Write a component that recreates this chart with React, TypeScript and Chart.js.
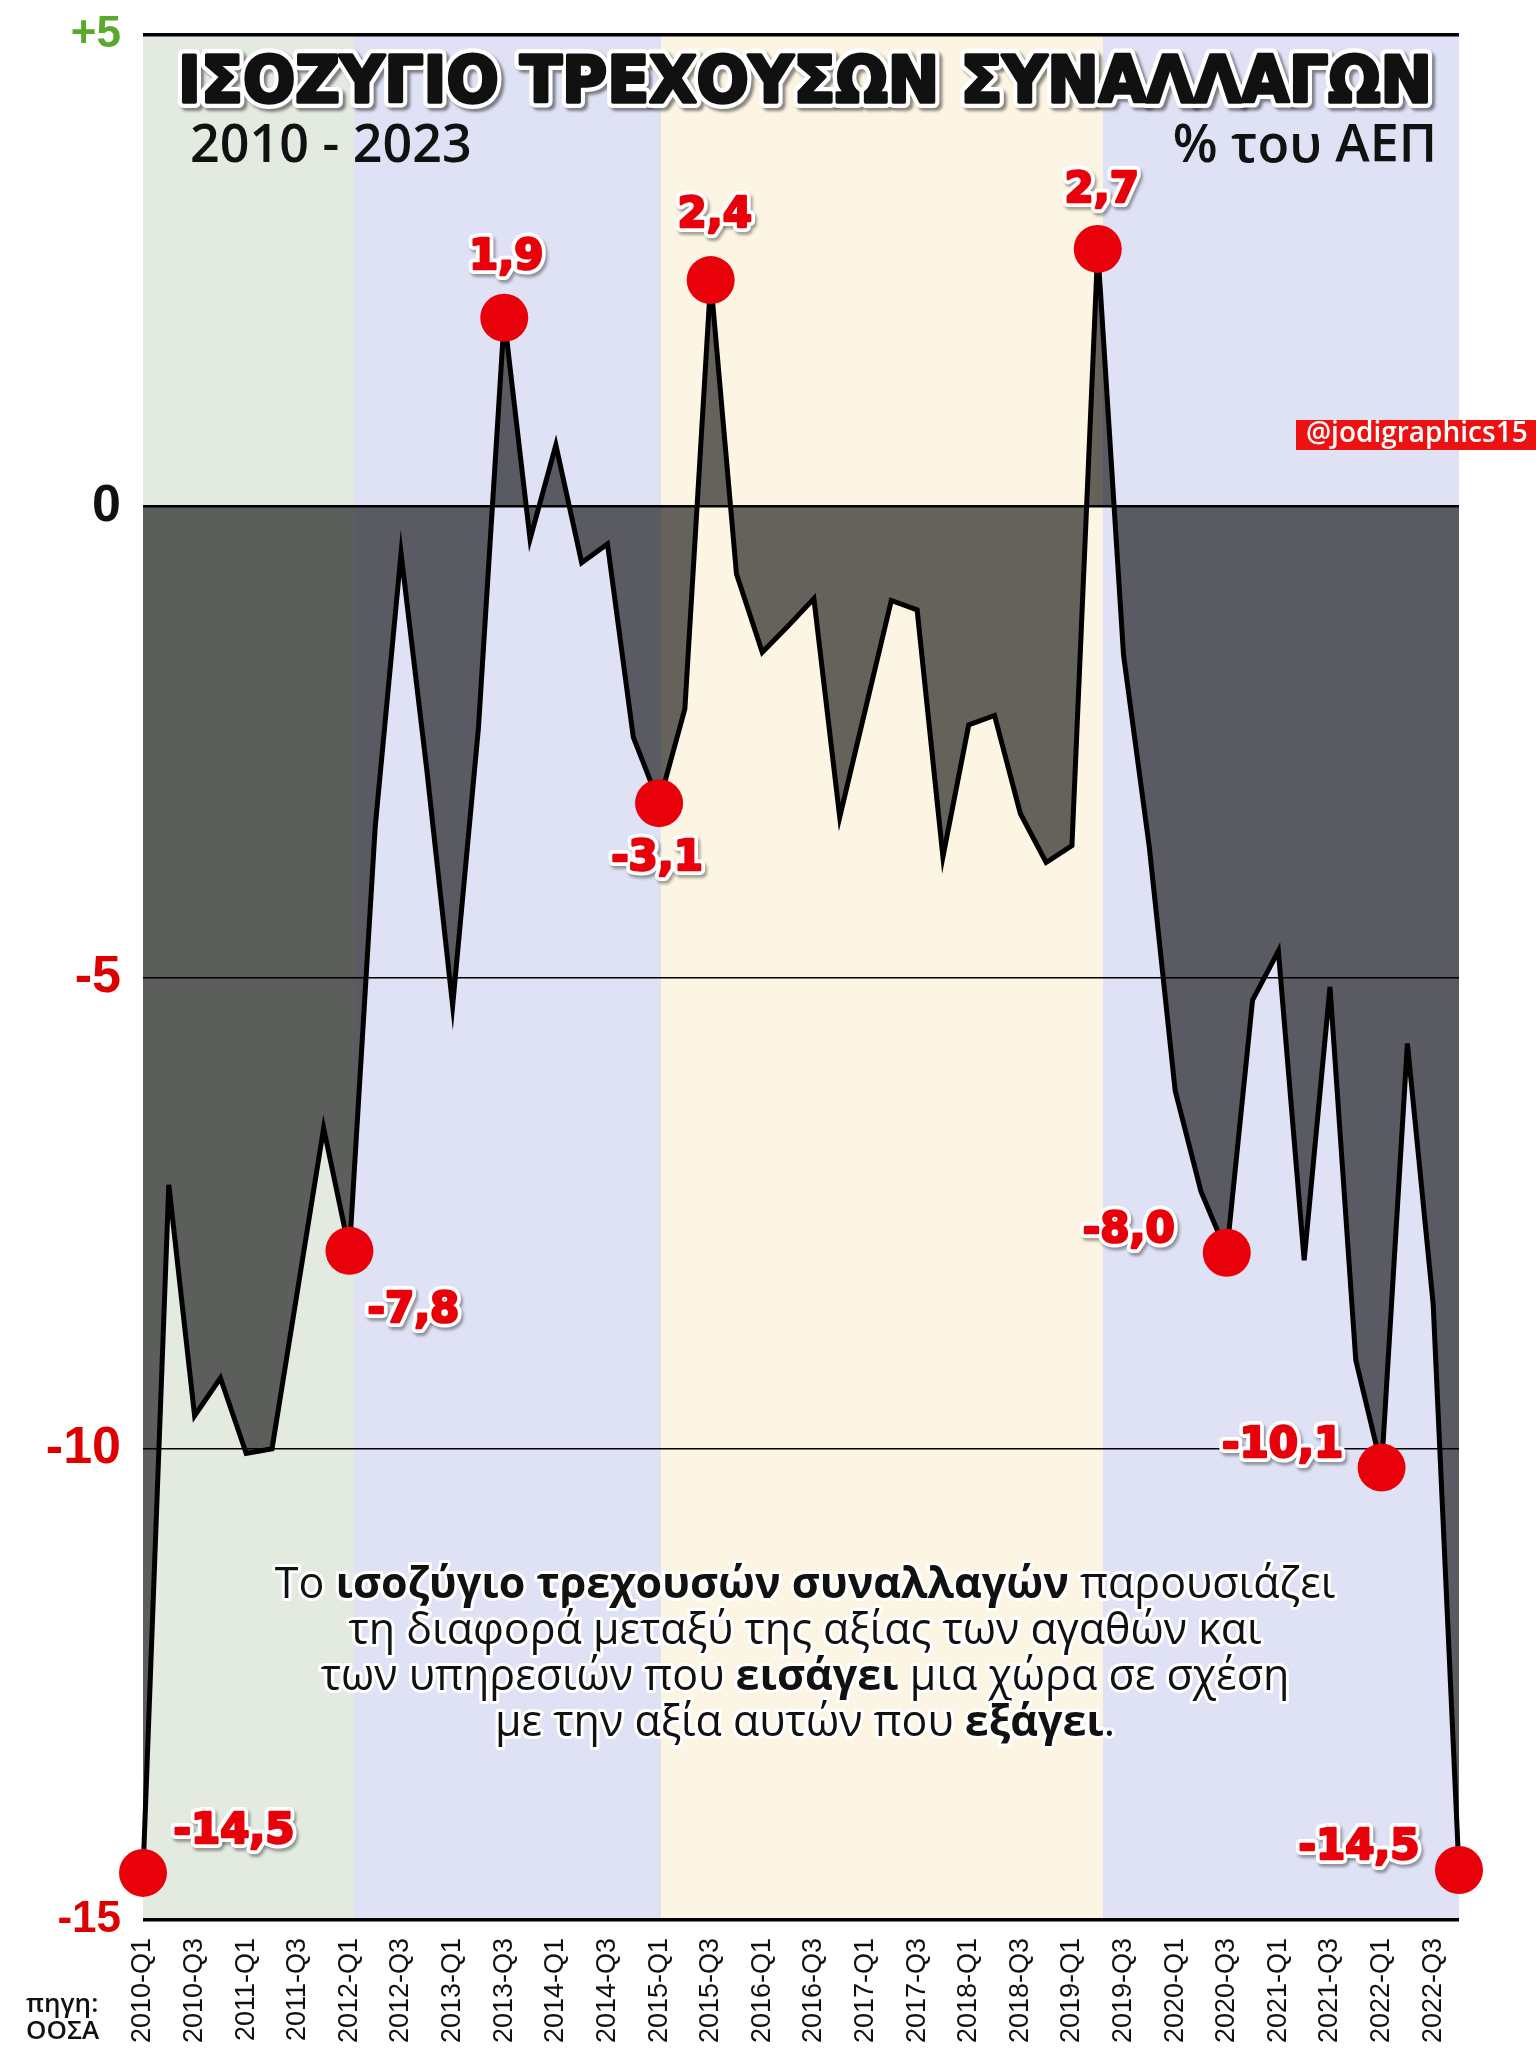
import React, { useEffect, useRef } from 'react';
import { Chart, registerables } from 'chart.js';

Chart.register(...registerables);

// ---------- data ----------
const quarters = [
  '2010-Q1', '2010-Q2', '2010-Q3', '2010-Q4',
  '2011-Q1', '2011-Q2', '2011-Q3', '2011-Q4',
  '2012-Q1', '2012-Q2', '2012-Q3', '2012-Q4',
  '2013-Q1', '2013-Q2', '2013-Q3', '2013-Q4',
  '2014-Q1', '2014-Q2', '2014-Q3', '2014-Q4',
  '2015-Q1', '2015-Q2', '2015-Q3', '2015-Q4',
  '2016-Q1', '2016-Q2', '2016-Q3', '2016-Q4',
  '2017-Q1', '2017-Q2', '2017-Q3', '2017-Q4',
  '2018-Q1', '2018-Q2', '2018-Q3', '2018-Q4',
  '2019-Q1', '2019-Q2', '2019-Q3', '2019-Q4',
  '2020-Q1', '2020-Q2', '2020-Q3', '2020-Q4',
  '2021-Q1', '2021-Q2', '2021-Q3', '2021-Q4',
  '2022-Q1', '2022-Q2', '2022-Q3', '2022-Q4',
];

const balance = [
  -14.5, -7.2, -9.65, -9.25, -10.05, -10.0, -8.3, -6.6,
  -7.9, -3.4, -0.5, -2.8, -5.3, -2.35, 2.0, -0.35,
  0.65, -0.6, -0.4, -2.45, -3.15, -2.15, 2.4, -0.72,
  -1.55, -1.27, -0.98, -3.3, -2.15, -1.0, -1.1, -3.72,
  -2.32, -2.22, -3.26, -3.78, -3.6, 2.73, -1.58, -3.62,
  -6.2, -7.27, -7.92, -5.24, -4.72, -8.0, -5.1, -9.06,
  -10.2, -5.7, -8.47, -14.47,
];

const highlightIdx = [0, 8, 14, 20, 22, 37, 42, 48, 51];
const highlightText = ['-14,5', '-7,8', '1,9', '-3,1', '2,4', '2,7', '-8,0', '-10,1', '-14,5'];

const yTicks = [5, 0, -5, -10, -15];

// government periods (in quarter-index units) and colours
const periodBounds = [0, 8.18, 20.08, 37.2, 51];
const periodColors = ['#e3ebe0', '#dfe2f4', '#fdf5e3', '#dfe2f4'];

const titleText = 'ΙΣΟΖΥΓΙΟ ΤΡΕΧΟΥΣΩΝ ΣΥΝΑΛΛΑΓΩΝ';
const subLeft = '2010 - 2023';
const subRight = '% του ΑΕΠ';
const noteLines: [string, boolean][][] = [
  [['Το ', false], ['ισοζύγιο τρεχουσών συναλλαγών', true], [' παρουσιάζει', false]],
  [['τη διαφορά μεταξύ της αξίας των αγαθών και', false]],
  [['των υπηρεσιών που ', false], ['εισάγει', true], [' μια χώρα σε σχέση', false]],
  [['με την αξία αυτών που ', false], ['εξάγει', true], ['.', false]],
];
const sourceLines = ['πηγη:', 'ΟΟΣΑ'];
const watermark = '@jodigraphics15';

// ---------- styles (offsets of annotation labels from their markers) ----------
const labelOffsets = [
  [91, -41], [64, 60], [2, -60], [-2, 56], [4, -64], [4, -58], [-98, -22], [-99, -22], [-100, -22],
];

const RED = '#e8000a';

const decorPlugin = {
  id: 'decor',
  beforeDraw(chart: any) {
    const { ctx, chartArea } = chart;
    const xs = chart.scales.x;
    ctx.save();
    for (let i = 0; i < periodColors.length; i++) {
      const x0 = xs.getPixelForValue(periodBounds[i]);
      const x1 = xs.getPixelForValue(periodBounds[i + 1]);
      ctx.fillStyle = periodColors[i];
      ctx.fillRect(x0, chartArea.top, x1 - x0, chartArea.bottom - chartArea.top);
    }
    ctx.restore();
  },
  afterDatasetsDraw(chart: any) {
    const { ctx } = chart;
    const meta = chart.getDatasetMeta(0);
    ctx.save();
    ctx.font = 'bold 42px "DejaVu Sans", sans-serif';
    ctx.textAlign = 'center';
    ctx.textBaseline = 'middle';
    ctx.lineJoin = 'round';
    highlightIdx.forEach((idx, k) => {
      const pt = meta.data[idx];
      const x = pt.x + labelOffsets[k][0];
      const y = pt.y + labelOffsets[k][1];
      ctx.shadowColor = 'rgba(0,0,0,0.35)';
      ctx.shadowBlur = 3;
      ctx.shadowOffsetX = 2;
      ctx.shadowOffsetY = 3;
      ctx.strokeStyle = '#ffffff';
      ctx.lineWidth = 10;
      ctx.strokeText(highlightText[k], x, y);
      ctx.shadowColor = 'transparent';
      ctx.strokeStyle = RED;
      ctx.lineWidth = 2.5;
      ctx.strokeText(highlightText[k], x, y);
      ctx.fillStyle = RED;
      ctx.fillText(highlightText[k], x, y);
    });
    ctx.restore();
  },
  afterDraw(chart: any) {
    const { ctx } = chart;
    ctx.save();
    // Title
    ctx.font = 'bold 64px "DejaVu Sans", sans-serif';
    const tw = ctx.measureText(titleText).width;
    const sx = 1254 / tw;
    ctx.save();
    ctx.translate(805, 102);
    ctx.scale(sx, 1);
    ctx.textAlign = 'center';
    ctx.textBaseline = 'alphabetic';
    ctx.lineJoin = 'round';
    ctx.shadowColor = 'rgba(0,0,0,0.45)';
    ctx.shadowBlur = 3;
    ctx.shadowOffsetX = 3;
    ctx.shadowOffsetY = 3;
    ctx.strokeStyle = '#ffffff';
    ctx.lineWidth = 12;
    ctx.strokeText(titleText, 0, 0);
    ctx.shadowColor = 'transparent';
    ctx.strokeStyle = '#111111';
    ctx.lineWidth = 3.5;
    ctx.strokeText(titleText, 0, 0);
    ctx.fillStyle = '#111111';
    ctx.fillText(titleText, 0, 0);
    ctx.restore();

    // Subtitles
    ctx.font = '600 52px "Open Sans", sans-serif';
    ctx.fillStyle = '#111111';
    ctx.textBaseline = 'alphabetic';
    ctx.textAlign = 'left';
    ctx.fillText(subLeft, 190, 162);
    ctx.textAlign = 'right';
    ctx.fillText(subRight, 1437, 162);

    // Watermark
    ctx.fillStyle = '#ee1111';
    ctx.fillRect(1296, 420, 240, 30);
    ctx.fillStyle = '#ffffff';
    ctx.font = '600 28px "Open Sans", sans-serif';
    ctx.textAlign = 'left';
    ctx.textBaseline = 'middle';
    ctx.fillText(watermark, 1306, 434);

    // Explanatory note
    const regular = '43px "Open Sans", sans-serif';
    const bold = 'bold 43px "Open Sans", sans-serif';
    ctx.textBaseline = 'alphabetic';
    ctx.textAlign = 'left';
    ctx.lineJoin = 'round';
    noteLines.forEach((segs, li) => {
      let total = 0;
      const widths = segs.map(([t, b]) => {
        ctx.font = b ? bold : regular;
        const w = ctx.measureText(t).width;
        total += w;
        return w;
      });
      let x = 805 - total / 2;
      const y = 1598 + li * 46;
      segs.forEach(([t, b], si) => {
        ctx.font = b ? bold : regular;
        ctx.strokeStyle = '#ffffff';
        ctx.lineWidth = 6;
        ctx.strokeText(t, x, y);
        ctx.fillStyle = '#111111';
        ctx.fillText(t, x, y);
        x += widths[si];
      });
    });

    // Source
    ctx.font = '600 26px "Open Sans", sans-serif';
    ctx.fillStyle = '#111111';
    ctx.textAlign = 'left';
    ctx.fillText(sourceLines[0], 26, 2012);
    ctx.fillText(sourceLines[1], 26, 2039);
    ctx.restore();
  },
};

export default function App() {
  const canvasRef = useRef<HTMLCanvasElement | null>(null);

  useEffect(() => {
    document.body.style.margin = '0';
    const canvas = canvasRef.current;
    if (!canvas) return;
    const chart = new Chart(canvas, {
      type: 'line',
      data: {
        labels: quarters,
        datasets: [
          {
            data: balance,
            borderColor: '#000000',
            borderWidth: 5,
            borderJoinStyle: 'miter',
            backgroundColor: 'rgba(0,0,0,0.6)',
            fill: 'origin',
            tension: 0,
            clip: false,
            pointRadius: (c: any) => (highlightIdx.includes(c.dataIndex) ? 24 : 0),
            pointHoverRadius: (c: any) => (highlightIdx.includes(c.dataIndex) ? 24 : 0),
            pointBackgroundColor: RED,
            pointBorderWidth: 0,
            pointBorderColor: RED,
          } as any,
        ],
      },
      options: {
        animation: false,
        responsive: false,
        devicePixelRatio: 1,
        events: [],
        layout: { padding: { top: 35, right: 77, bottom: 0, left: 0 } },
        plugins: {
          legend: { display: false },
          tooltip: { enabled: false },
          title: { display: false },
        },
        scales: {
          x: {
            type: 'category',
            offset: false,
            grid: { display: false },
            border: { display: false },
            afterFit: (s: any) => {
              s.height = 128;
              s.paddingLeft = 0;
              s.paddingRight = 0;
            },
            ticks: {
              autoSkip: false,
              minRotation: 90,
              maxRotation: 90,
              padding: 10,
              color: '#111111',
              font: { family: '"Liberation Sans", Arial, sans-serif', size: 27 },
              callback: (_v: any, i: number) => (i % 2 === 0 ? quarters[i] : ''),
            },
          },
          y: {
            min: -15,
            max: 5,
            afterFit: (s: any) => {
              s.width = 143;
              s.paddingTop = 0;
              s.paddingBottom = 0;
            },
            afterBuildTicks: (s: any) => {
              s.ticks = yTicks.map((v) => ({ value: v }));
            },
            grid: {
              drawTicks: false,
              color: '#000000',
              lineWidth: (c: any) => {
                const v = c.tick ? c.tick.value : 0;
                if (v === 5 || v === -15) return 3.5;
                if (v === 0) return 2.5;
                return 1.5;
              },
            },
            border: { display: false },
            ticks: {
              padding: 22,
              callback: (v: any) => (Number(v) > 0 ? '+' + v : String(v)),
              color: (c: any) => {
                const v = c.tick ? c.tick.value : 0;
                if (v > 0) return '#58a92c';
                if (v === 0) return '#111111';
                return '#dd0000';
              },
              font: (c: any) => {
                const v = c.tick ? c.tick.value : 0;
                if (v === 5 || v === -15)
                  return { family: '"Liberation Sans", Arial, sans-serif', size: 44, weight: 'bold' };
                return { family: '"Liberation Sans", Arial, sans-serif', size: 52, weight: 'bold' };
              },
            },
          },
        },
      },
      plugins: [decorPlugin],
    } as any);
    return () => chart.destroy();
  }, []);

  return (
    <div style={{ position: 'absolute', left: 0, top: 0, width: 1536, height: 2048, background: '#ffffff' }}>
      <canvas ref={canvasRef} width={1536} height={2048} style={{ width: 1536, height: 2048, display: 'block' }} />
    </div>
  );
}
